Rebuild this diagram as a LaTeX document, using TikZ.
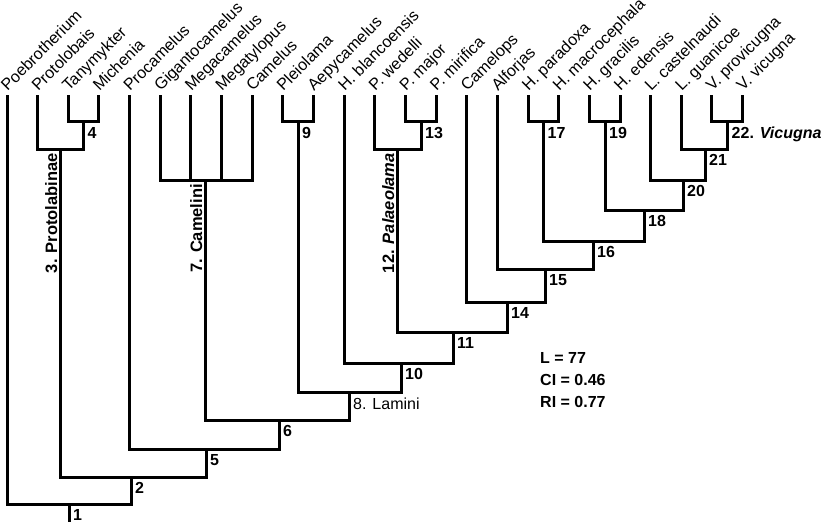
\documentclass[tikz,border=0pt]{standalone}
\usepackage{fontspec}
\setmainfont{Liberation Sans}
\usetikzlibrary{calc}
\tikzset{
  branch/.style={
    line width=3pt,
    line join=miter
  },
  taxon/.style={rotate=45, anchor=base west, inner sep=0pt, font=\fontsize{16.2}{19}\selectfont},
  clade-num/.style={anchor=north west, inner sep=0pt, font=\fontsize{16}{19}\selectfont\bfseries},
  clade-name/.style={rotate=90, anchor=south east, inner sep=0pt, font=\fontsize{16.5}{19}\selectfont\bfseries},
  tree-stats/.style={anchor=north west, align=left, inner sep=0pt, font=\fontsize{16}{22}\selectfont\bfseries}
}

\begin{document}
\begin{tikzpicture}[x=1pt, y=-1pt]
  \useasboundingbox (0,0) rectangle (822,522);
  % Terminal taxa
  \foreach \name [count=\i from 0] in {Poebrotherium, Protolobais, Tanymykter, Michenia,
      Procamelus, Gigantocamelus, Megacamelus, Megatylopus, Camelus, Pleiolama,
      Aepycamelus, H. blancoensis, P. wedelli, P. major, P. mirifica, Camelops,
      Alforjas, H. paradoxa, H. macrocephala, H. gracilis, H. edensis,
      L. castelnaudi, L. guanicoe, V. provicugna, V. vicugna} {
    \coordinate (t\i) at ({7+30.65*\i},95);
    \node[taxon] (lab\i) at ($(t\i)+(0.5,-3)$) {\name};
  }
  % Internal nodes
  \coordinate (n1) at (69,504);
  \coordinate (n2) at (131,477);
  \coordinate (n3) at (60.5,149);
  \coordinate (n4) at (83.5,121.5);
  \coordinate (n5) at (206,449);
  \coordinate (n6) at (279,420);
  \coordinate (n7) at (205.5,180);
  \coordinate (n8) at (349,392);
  \coordinate (n9) at (298,121.5);
  \coordinate (n10) at (401,363);
  \coordinate (n11) at (453,332);
  \coordinate (n12) at (397.5,149);
  \coordinate (n13) at (421,121.5);
  \coordinate (n14) at (507,302);
  \coordinate (n15) at (545,269);
  \coordinate (n16) at (593,241);
  \coordinate (n17) at (543.5,121.5);
  \coordinate (n18) at (644,210);
  \coordinate (n19) at (605,121.5);
  \coordinate (n20) at (683,180);
  \coordinate (n21) at (705,149);
  \coordinate (n22) at (727.5,121.5);
  % Branches
  \foreach \a/\p/\b in {t0/n1/n2, n3/n2/n5, t1/n3/n4, t2/n4/t3, t4/n5/n6,
      n7/n6/n8, t5/n7/t8, n9/n8/n10, t9/n9/t10, t11/n10/n11, n12/n11/n14,
      t12/n12/n13, t13/n13/t14, t15/n14/n15, t16/n15/n16, n17/n16/n18,
      t17/n17/t18, n19/n18/n20, t19/n19/t20, t21/n20/n21, t22/n21/n22,
      t23/n22/t24} {
    \draw[branch] (\a) |- (\p) -| (\b);
  }
  \draw[branch] (t6) -- (t6 |- n7);
  \draw[branch] (t7) -- (t7 |- n7);
  \draw[branch] (n1) -- (n1 |- 0,530);
  % Clade labels
  \foreach \n in {1,2,4,5,6,9,10,11,13,14,15,16,17,18,19,20,21} {
    \node[clade-num] (c\n) at ($(n\n)+(4,5.5)$) {\n};
  }
  \node[clade-num, font=\fontsize{16}{19}\selectfont] (c8) at ($(n8)+(4,5.5)$) {8. Lamini};
  \node[clade-num] (c22) at ($(n22)+(4,5.5)$) {22. \textit{Vicugna}};
  \node[clade-name] (c3) at ($(n3)+(-3,4)$) {3. Protolabinae};
  \node[clade-name] (c7) at ($(n7)+(-3,4)$) {7. Camelini};
  \node[clade-name] (c12) at ($(n12)+(-3,4)$) {12. \textit{Palaeolama}};
  % Tree statistics
  \node[tree-stats] (stats) at (540,352) {L = 77\\CI = 0.46\\RI = 0.77};
\end{tikzpicture}
\end{document}
